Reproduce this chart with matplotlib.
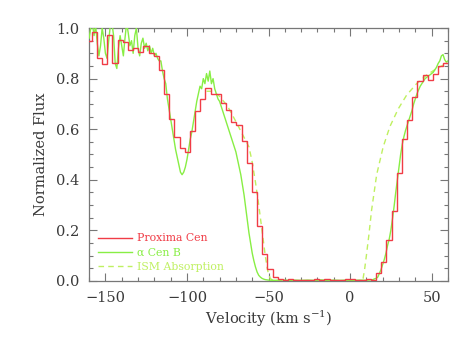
import numpy as np
import matplotlib
matplotlib.use("Agg")
import matplotlib.pyplot as plt
from matplotlib.ticker import MultipleLocator, FormatStrFormatter
from matplotlib.lines import Line2D

# ---------------- data ----------------
# Proxima Cen: binned histogram (constant bin width)
red_bin_start = -161.6
red_bin_width = 3.17
red_flux = [0.949, 0.983, 0.880, 0.858, 0.972, 0.860, 0.953, 0.946, 0.913, 0.922,
            0.906, 0.929, 0.900, 0.890, 0.835, 0.740, 0.640, 0.570, 0.525, 0.510,
            0.593, 0.672, 0.718, 0.762, 0.738, 0.738, 0.705, 0.676, 0.630, 0.618,
            0.555, 0.465, 0.350, 0.217, 0.105, 0.046, 0.016, 0.006,
            0.004, 0.006, 0.003, 0.002, 0.004, 0.003, 0.006, 0.002, 0.008, 0.004,
            0.003, 0.002, 0.007, 0.009, 0.003, 0.005, 0.008, 0.004,
            0.030, 0.075, 0.160, 0.278, 0.428, 0.560, 0.636, 0.728, 0.792, 0.814,
            0.794, 0.818, 0.850, 0.863]

# alpha Cen B: high resolution spectrum
acen_v = [-160, -159, -158, -157, -156, -155, -154, -153, -152, -151,
          -150, -149, -148, -147, -146, -145, -144, -143, -142, -141,
          -140, -139, -138, -137, -136, -135, -134, -133, -132, -131,
          -130, -129, -128, -127, -126, -125, -124, -123, -122, -121,
          -120, -119, -118, -117, -116, -115, -114, -113, -112, -111,
          -110, -109, -108, -107, -106, -105, -104, -103, -102, -101,
          -100, -99, -98, -97, -96, -95, -94, -93, -92, -91,
          -90, -89, -88, -87, -86, -85, -84, -83, -82, -81,
          -80, -79, -78, -77, -76, -75, -74, -73, -72, -71,
          -70, -69, -68, -67, -66, -65, -64, -63, -62, -61,
          -60, -59, -58, -57, -56, -55, -54, -53, -52,
          -50, -46, -42, -38, -34, -30, -26, -22, -18, -14, -10, -6, -2,
          2, 6, 10, 13,
          14, 15, 16, 17, 18, 19, 20, 21, 22, 23, 24, 25, 26, 27, 28, 29,
          30, 31, 32, 33, 34, 35, 36, 37, 38, 39, 40, 41, 42, 43, 44, 45,
          46, 47, 48, 49, 50, 51, 52, 53, 54, 55, 56, 57, 58, 59, 60]
acen_flux = [0.96, 1.00, 1.02, 0.97, 1.01, 0.94, 0.89, 0.93, 1.00, 0.96,
             0.90, 0.88, 0.95, 1.01, 1.02, 0.97, 0.86, 0.84, 0.92, 0.97,
             0.93, 0.89, 0.96, 1.02, 0.98, 0.93, 0.95, 0.90, 0.97, 1.00,
             0.92, 0.89, 0.94, 0.96, 0.92, 0.94, 0.91, 0.93, 0.90, 0.92,
             0.89, 0.90, 0.88, 0.87, 0.87, 0.83, 0.80, 0.78, 0.72, 0.68,
             0.64, 0.60, 0.56, 0.52, 0.49, 0.46, 0.43, 0.42, 0.43, 0.45,
             0.48, 0.52, 0.56, 0.59, 0.63, 0.67, 0.71, 0.74, 0.77, 0.76,
             0.80, 0.78, 0.82, 0.79, 0.83, 0.78, 0.80, 0.76, 0.74, 0.72,
             0.71, 0.69, 0.67, 0.65, 0.63, 0.61, 0.59, 0.57, 0.55, 0.53,
             0.51, 0.48, 0.45, 0.42, 0.38, 0.34, 0.29, 0.24, 0.19, 0.15,
             0.11, 0.08, 0.055, 0.035, 0.022, 0.015, 0.010, 0.007, 0.005,
             0.003, 0.002, 0.004, 0.002, 0.003, 0.002, 0.003, 0.002, 0.004, 0.002, 0.003, 0.002, 0.003,
             0.002, 0.003, 0.002, 0.004,
             0.005, 0.008, 0.010, 0.015, 0.030, 0.045, 0.065, 0.085, 0.110, 0.140, 0.165, 0.200, 0.245, 0.295, 0.350, 0.400,
             0.450, 0.500, 0.540, 0.570, 0.595, 0.615, 0.635, 0.655, 0.675, 0.700, 0.720, 0.740, 0.755, 0.770, 0.780, 0.790,
             0.800, 0.805, 0.810, 0.815, 0.820, 0.825, 0.835, 0.845, 0.860, 0.870, 0.890, 0.895, 0.875, 0.865, 0.870]

# ISM absorption model
ism_v = [-88, -85, -82, -80, -75, -70, -66, -62, -60, -58, -56, -54,
         -52, -50.5, -49, -47, -30, -10, 5, 7, 8, 9, 10, 11.5, 13.2, 16.3, 20.3,
         24.4, 29.5, 34.7, 40.8, 46.9, 53.1, 59.2, 60]
ism_flux = [0.75, 0.75, 0.74, 0.73, 0.69, 0.63, 0.58, 0.53, 0.47, 0.39,
            0.30, 0.20, 0.10, 0.04, 0.01, 0.0, 0.0, 0.0, 0.0, 0.0, 0.01, 0.05, 0.10, 0.18,
            0.28, 0.42, 0.53, 0.61, 0.68, 0.735, 0.78, 0.814, 0.84, 0.86, 0.862]

red_edges = red_bin_start + red_bin_width * np.arange(len(red_flux) + 1)

# ---------------- style ----------------
plt.rcParams['font.family'] = ['DejaVu Serif']
plt.rcParams['mathtext.fontset'] = 'dejavuserif'

RED = '#f03c46'
GREEN = '#88ee44'
ISM = '#bff060'
AXC = '#777777'
TXT = '#3a3a3a'

fig = plt.figure(figsize=(4.74, 3.38), dpi=100)
ax = fig.add_axes([0.188, 0.169, 0.757, 0.748])

ax.plot(ism_v, ism_flux, color=ISM, lw=1.0, ls=(0, (4, 3)), zorder=2)
ax.plot(acen_v, acen_flux, color=GREEN, lw=1.0, zorder=3)
ax.stairs(red_flux, red_edges, color=RED, lw=1.0, zorder=4, baseline=None)

ax.set_xlim(-160, 60)
ax.set_ylim(0, 1.0)

ax.xaxis.set_major_locator(MultipleLocator(50))
ax.xaxis.set_minor_locator(MultipleLocator(10))
ax.yaxis.set_major_locator(MultipleLocator(0.2))
ax.yaxis.set_minor_locator(MultipleLocator(0.05))
ax.tick_params(which='both', direction='in', top=True, right=True, color=AXC,
               labelcolor=TXT, labelsize=10.5, width=0.8)
ax.tick_params(which='major', length=6, pad=7)
ax.tick_params(which='minor', length=3)
ax.yaxis.set_major_formatter(FormatStrFormatter('%.1f'))
for s in ax.spines.values():
    s.set_color(AXC)
    s.set_linewidth(0.9)

ax.set_xlabel('Velocity (km s$^{-1}$)', fontsize=10.5, color=TXT, labelpad=3)
ax.set_ylabel('Normalized Flux', fontsize=10.5, color=TXT, labelpad=6)

hl = [Line2D([], [], color=RED, lw=1.0),
      Line2D([], [], color=GREEN, lw=1.0),
      Line2D([], [], color=ISM, lw=1.0, ls=(0, (4, 3)))]
leg = ax.legend(hl, ['Proxima Cen', 'α Cen B', 'ISM Absorption'],
                loc='lower left', bbox_to_anchor=(0.025, 0.035), frameon=False,
                fontsize=7.8, handlelength=3.1, handletextpad=0.5,
                labelspacing=0.4, borderpad=0, borderaxespad=0)
for t, c in zip(leg.get_texts(), [RED, GREEN, ISM]):
    t.set_color(c)

fig.savefig('out.png', dpi=100)
